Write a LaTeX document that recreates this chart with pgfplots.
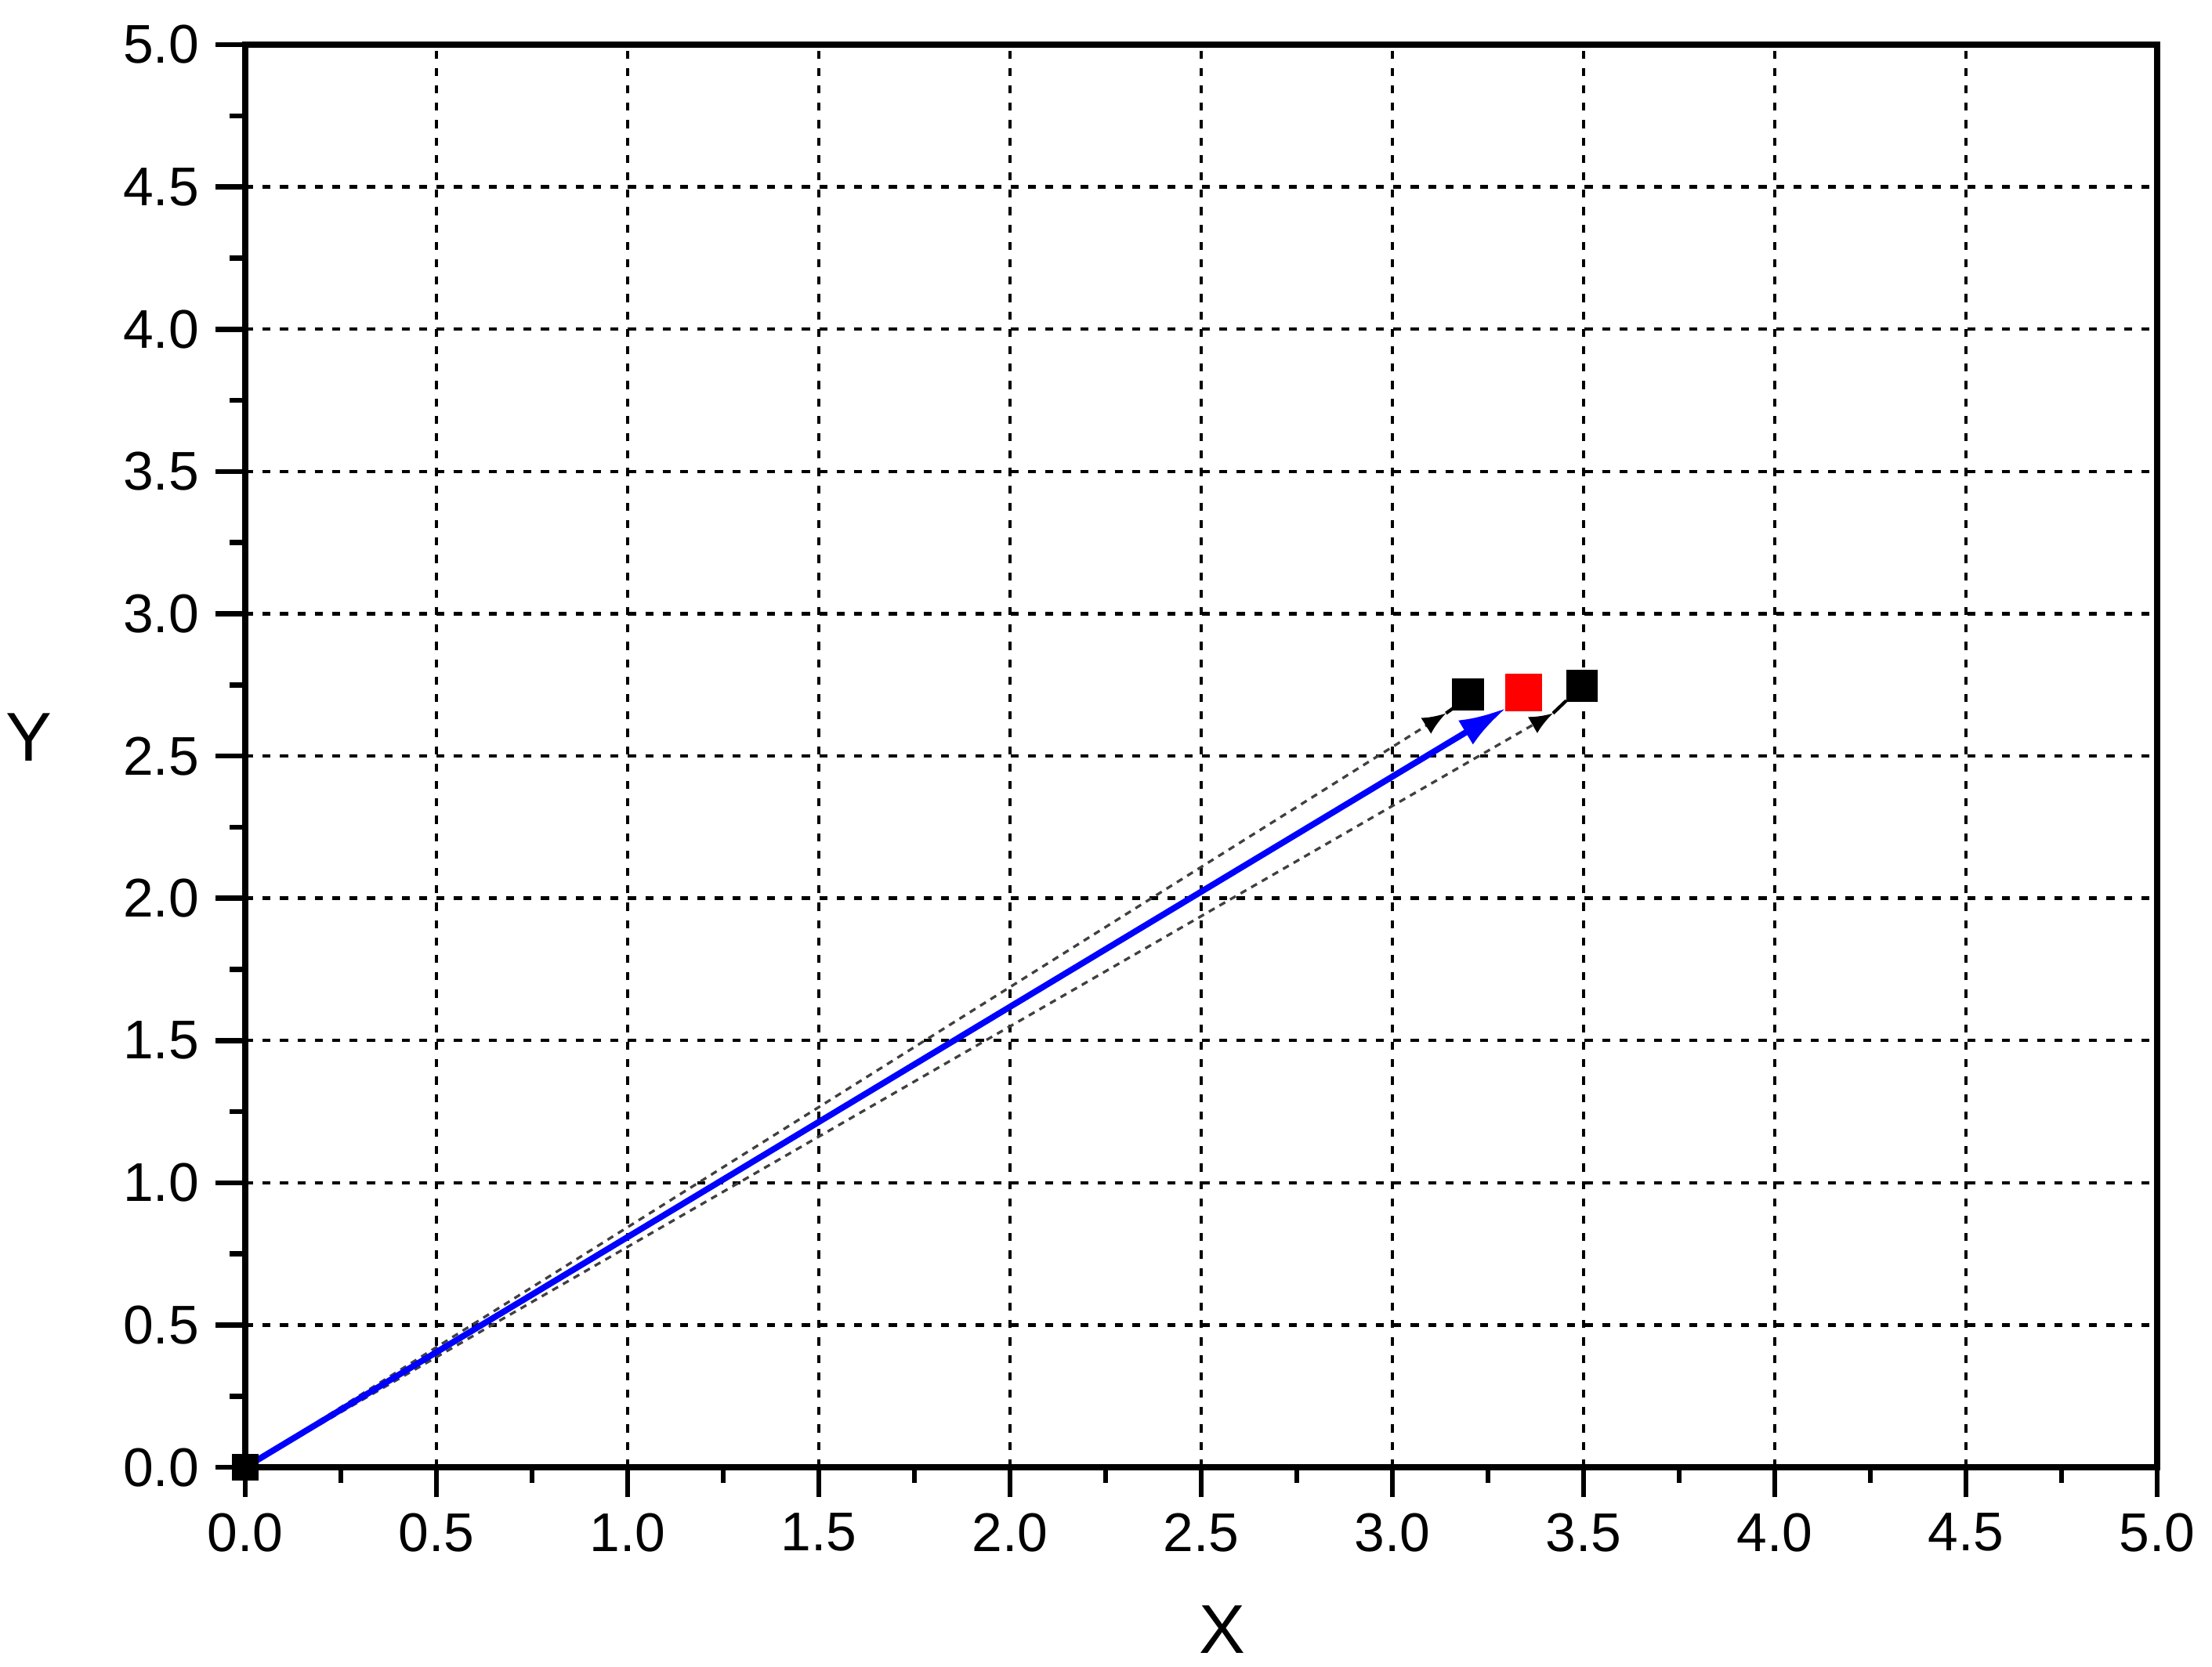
\documentclass[border=0pt]{standalone}
\usepackage{fontspec}
\setmainfont{Liberation Sans}
\usepackage{pgfplots}
\pgfplotsset{compat=1.18}
\usetikzlibrary{arrows.meta}
\begin{document}
\begin{tikzpicture}
\begin{axis}[
  width=406.67pt, height=302.67pt, scale only axis,
  xmin=0, xmax=5, ymin=0, ymax=5,
  xtick={0,0.5,...,5}, ytick={0,0.5,...,5},
  minor tick num=1,
  tick align=outside, tick pos=left,
  major tick length=6.3pt, minor tick length=3.3pt,
  every tick/.style={black, line width=1.1pt},
  axis line style={black, line width=1.2pt},
  grid=major,
  major grid style={black, line width=0.75pt, dash pattern=on 1.7pt off 2pt},
  ticklabel style={font=\fontsize{11.6pt}{13pt}\selectfont},
  /pgf/number format/fixed, /pgf/number format/fixed zerofill,
  /pgf/number format/precision=1, /pgf/number format/assume math mode=true,
  xlabel={X}, ylabel={Y},
  xlabel style={font=\fontsize{14.7pt}{16pt}\selectfont, at={(axis description cs:0.511,0)}, anchor=center, yshift=-34.5pt},
  ylabel style={font=\fontsize{14.7pt}{16pt}\selectfont, rotate=-90, at={(axis description cs:-0.1131,0.513)}, anchor=center},
  clip=false,
]
% dashed vectors
\addplot[black!75, line width=0.55pt, dash pattern=on 1.4pt off 1.2pt, -{Latex[length=5pt,width=4pt,black,fill=black]}] coordinates {(0,0) (3.14,2.65)};
\addplot[black, line width=0.7pt] coordinates {(3.14,2.65) (3.164,2.673)};
\addplot[black!75, line width=0.55pt, dash pattern=on 1.4pt off 1.2pt, -{Latex[length=5pt,width=4pt,black,fill=black]}] coordinates {(0,0) (3.42,2.65)};
\addplot[black, line width=0.7pt] coordinates {(3.42,2.65) (3.455,2.695)};
% main vector
\addplot[blue, line width=1.3pt, -{Latex[length=10pt,width=6pt]}] coordinates {(0,0) (3.297,2.668)};
% markers
\addplot[only marks, mark=square*, mark options={black, fill=black}, mark size=3.17pt] coordinates {(3.198,2.716) (3.496,2.747)};
\addplot[only marks, mark=square*, mark options={red, fill=red}, mark size=3.75pt] coordinates {(3.343,2.723)};
\addplot[only marks, mark=square*, mark options={black, fill=black}, mark size=2.6pt] coordinates {(0,0)};
\end{axis}
\pgfresetboundingbox
\useasboundingbox (-52.17pt,-42.33pt) rectangle (418.33pt,312.17pt);
\end{tikzpicture}
\end{document}
